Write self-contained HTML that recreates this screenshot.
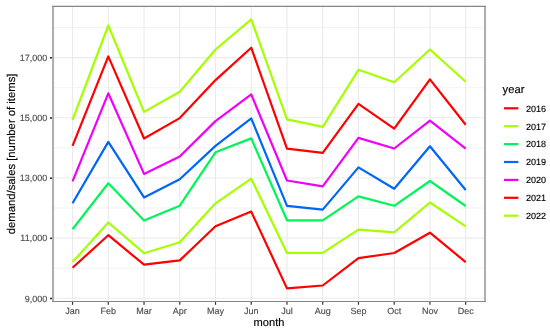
<!DOCTYPE html>
<html><head><meta charset="utf-8"><style>
html,body{margin:0;padding:0;background:#fff;}
body{width:550px;height:331px;overflow:hidden;}
svg{display:block;font-family:"Liberation Sans",Arial,sans-serif;}
text{stroke-width:0.15px;paint-order:stroke;text-rendering:geometricPrecision;}
.k{fill:#000;stroke:#000;}
.g{fill:#4D4D4D;stroke:#4D4D4D;}
</style></head><body>
<svg width="550" height="331" viewBox="0 0 550 331">
<rect x="0" y="0" width="550" height="331" fill="#fff"/>
<line x1="53.0" x2="485.0" y1="268.21" y2="268.21" stroke="#EBEBEB" stroke-width="0.6"/>
<line x1="53.0" x2="485.0" y1="208.04" y2="208.04" stroke="#EBEBEB" stroke-width="0.6"/>
<line x1="53.0" x2="485.0" y1="147.86" y2="147.86" stroke="#EBEBEB" stroke-width="0.6"/>
<line x1="53.0" x2="485.0" y1="87.69" y2="87.69" stroke="#EBEBEB" stroke-width="0.6"/>
<line x1="53.0" x2="485.0" y1="27.51" y2="27.51" stroke="#EBEBEB" stroke-width="0.6"/>
<line x1="53.0" x2="485.0" y1="298.30" y2="298.30" stroke="#EBEBEB" stroke-width="1.1"/>
<line x1="53.0" x2="485.0" y1="238.12" y2="238.12" stroke="#EBEBEB" stroke-width="1.1"/>
<line x1="53.0" x2="485.0" y1="177.95" y2="177.95" stroke="#EBEBEB" stroke-width="1.1"/>
<line x1="53.0" x2="485.0" y1="117.78" y2="117.78" stroke="#EBEBEB" stroke-width="1.1"/>
<line x1="53.0" x2="485.0" y1="57.60" y2="57.60" stroke="#EBEBEB" stroke-width="1.1"/>
<line x1="72.55" x2="72.55" y1="6.3" y2="301.5" stroke="#EBEBEB" stroke-width="1.1"/>
<line x1="108.29" x2="108.29" y1="6.3" y2="301.5" stroke="#EBEBEB" stroke-width="1.1"/>
<line x1="144.03" x2="144.03" y1="6.3" y2="301.5" stroke="#EBEBEB" stroke-width="1.1"/>
<line x1="179.77" x2="179.77" y1="6.3" y2="301.5" stroke="#EBEBEB" stroke-width="1.1"/>
<line x1="215.51" x2="215.51" y1="6.3" y2="301.5" stroke="#EBEBEB" stroke-width="1.1"/>
<line x1="251.25" x2="251.25" y1="6.3" y2="301.5" stroke="#EBEBEB" stroke-width="1.1"/>
<line x1="286.99" x2="286.99" y1="6.3" y2="301.5" stroke="#EBEBEB" stroke-width="1.1"/>
<line x1="322.73" x2="322.73" y1="6.3" y2="301.5" stroke="#EBEBEB" stroke-width="1.1"/>
<line x1="358.47" x2="358.47" y1="6.3" y2="301.5" stroke="#EBEBEB" stroke-width="1.1"/>
<line x1="394.21" x2="394.21" y1="6.3" y2="301.5" stroke="#EBEBEB" stroke-width="1.1"/>
<line x1="429.95" x2="429.95" y1="6.3" y2="301.5" stroke="#EBEBEB" stroke-width="1.1"/>
<line x1="465.69" x2="465.69" y1="6.3" y2="301.5" stroke="#EBEBEB" stroke-width="1.1"/>
<polyline points="72.55,267.80 108.29,235.20 144.03,264.70 179.77,260.40 215.51,226.30 251.25,211.60 286.99,288.40 322.73,285.50 358.47,258.20 394.21,253.00 429.95,232.70 465.69,262.10" fill="none" stroke="#FF0000" stroke-width="2.2" stroke-linejoin="round" stroke-linecap="butt"/>
<polyline points="72.55,262.10 108.29,222.50 144.03,253.20 179.77,242.30 215.51,203.30 251.25,178.70 286.99,252.90 322.73,252.90 358.47,229.70 394.21,232.40 429.95,202.50 465.69,226.40" fill="none" stroke="#A6FF00" stroke-width="2.2" stroke-linejoin="round" stroke-linecap="butt"/>
<polyline points="72.55,229.20 108.29,183.30 144.03,220.60 179.77,205.70 215.51,152.30 251.25,138.40 286.99,220.30 322.73,220.30 358.47,196.40 394.21,205.80 429.95,181.00 465.69,206.00" fill="none" stroke="#00F55A" stroke-width="2.2" stroke-linejoin="round" stroke-linecap="butt"/>
<polyline points="72.55,203.20 108.29,141.90 144.03,197.40 179.77,179.20 215.51,145.90 251.25,118.40 286.99,205.80 322.73,209.60 358.47,167.40 394.21,188.80 429.95,146.30 465.69,190.00" fill="none" stroke="#0066F5" stroke-width="2.2" stroke-linejoin="round" stroke-linecap="butt"/>
<polyline points="72.55,181.40 108.29,93.30 144.03,173.90 179.77,156.50 215.51,121.10 251.25,94.40 286.99,180.50 322.73,186.40 358.47,137.90 394.21,148.50 429.95,120.70 465.69,148.70" fill="none" stroke="#F000FA" stroke-width="2.2" stroke-linejoin="round" stroke-linecap="butt"/>
<polyline points="72.55,145.90 108.29,56.40 144.03,138.50 179.77,118.10 215.51,80.10 251.25,47.70 286.99,148.70 322.73,152.90 358.47,103.90 394.21,128.60 429.95,79.40 465.69,124.80" fill="none" stroke="#FF0000" stroke-width="2.2" stroke-linejoin="round" stroke-linecap="butt"/>
<polyline points="72.55,119.90 108.29,25.50 144.03,111.90 179.77,91.70 215.51,49.50 251.25,19.40 286.99,119.40 322.73,126.90 358.47,69.80 394.21,82.20 429.95,49.50 465.69,81.80" fill="none" stroke="#A6FF00" stroke-width="2.2" stroke-linejoin="round" stroke-linecap="butt"/>
<line x1="53.0" x2="53.0" y1="6.3" y2="301.5" stroke="#B0B0B0" stroke-width="2.1"/>
<line x1="485.0" x2="485.0" y1="6.3" y2="301.5" stroke="#B0B0B0" stroke-width="2.1"/>
<line x1="52.0" x2="486.0" y1="6.3" y2="6.3" stroke="#858585" stroke-width="1.2"/>
<line x1="52.0" x2="486.0" y1="301.5" y2="301.5" stroke="#858585" stroke-width="1.2"/>
<line x1="49.9" x2="52.0" y1="298.50" y2="298.50" stroke="#333" stroke-width="1.6"/>
<text x="47.2" y="301.50" text-anchor="end" font-size="9.0" class="g">9,000</text>
<line x1="49.9" x2="52.0" y1="238.32" y2="238.32" stroke="#333" stroke-width="1.6"/>
<text x="47.2" y="241.32" text-anchor="end" font-size="9.0" class="g">11,000</text>
<line x1="49.9" x2="52.0" y1="178.15" y2="178.15" stroke="#333" stroke-width="1.6"/>
<text x="47.2" y="181.15" text-anchor="end" font-size="9.0" class="g">13,000</text>
<line x1="49.9" x2="52.0" y1="117.98" y2="117.98" stroke="#333" stroke-width="1.6"/>
<text x="47.2" y="120.98" text-anchor="end" font-size="9.0" class="g">15,000</text>
<line x1="49.9" x2="52.0" y1="57.80" y2="57.80" stroke="#333" stroke-width="1.6"/>
<text x="47.2" y="60.80" text-anchor="end" font-size="9.0" class="g">17,000</text>
<line x1="72.55" x2="72.55" y1="302.1" y2="304.8" stroke="#333" stroke-width="1.2"/>
<text x="72.55" y="313.5" text-anchor="middle" font-size="9.0" class="g">Jan</text>
<line x1="108.29" x2="108.29" y1="302.1" y2="304.8" stroke="#333" stroke-width="1.2"/>
<text x="108.29" y="313.5" text-anchor="middle" font-size="9.0" class="g">Feb</text>
<line x1="144.03" x2="144.03" y1="302.1" y2="304.8" stroke="#333" stroke-width="1.2"/>
<text x="144.03" y="313.5" text-anchor="middle" font-size="9.0" class="g">Mar</text>
<line x1="179.77" x2="179.77" y1="302.1" y2="304.8" stroke="#333" stroke-width="1.2"/>
<text x="179.77" y="313.5" text-anchor="middle" font-size="9.0" class="g">Apr</text>
<line x1="215.51" x2="215.51" y1="302.1" y2="304.8" stroke="#333" stroke-width="1.2"/>
<text x="215.51" y="313.5" text-anchor="middle" font-size="9.0" class="g">May</text>
<line x1="251.25" x2="251.25" y1="302.1" y2="304.8" stroke="#333" stroke-width="1.2"/>
<text x="251.25" y="313.5" text-anchor="middle" font-size="9.0" class="g">Jun</text>
<line x1="286.99" x2="286.99" y1="302.1" y2="304.8" stroke="#333" stroke-width="1.2"/>
<text x="286.99" y="313.5" text-anchor="middle" font-size="9.0" class="g">Jul</text>
<line x1="322.73" x2="322.73" y1="302.1" y2="304.8" stroke="#333" stroke-width="1.2"/>
<text x="322.73" y="313.5" text-anchor="middle" font-size="9.0" class="g">Aug</text>
<line x1="358.47" x2="358.47" y1="302.1" y2="304.8" stroke="#333" stroke-width="1.2"/>
<text x="358.47" y="313.5" text-anchor="middle" font-size="9.0" class="g">Sep</text>
<line x1="394.21" x2="394.21" y1="302.1" y2="304.8" stroke="#333" stroke-width="1.2"/>
<text x="394.21" y="313.5" text-anchor="middle" font-size="9.0" class="g">Oct</text>
<line x1="429.95" x2="429.95" y1="302.1" y2="304.8" stroke="#333" stroke-width="1.2"/>
<text x="429.95" y="313.5" text-anchor="middle" font-size="9.0" class="g">Nov</text>
<line x1="465.69" x2="465.69" y1="302.1" y2="304.8" stroke="#333" stroke-width="1.2"/>
<text x="465.69" y="313.5" text-anchor="middle" font-size="9.0" class="g">Dec</text>
<text x="269.00" y="325.8" text-anchor="middle" font-size="11.1" class="k">month</text>
<text transform="translate(14.9,153.9) rotate(-90)" x="0" y="0" text-anchor="middle" font-size="11.3" class="k">demand/sales [number of items]</text>
<text x="502.6" y="93" font-size="11.2" class="k">year</text>
<line x1="504" x2="518.4" y1="108.30" y2="108.30" stroke="#FF0000" stroke-width="2.2"/>
<text x="526" y="111.60" font-size="9.0" class="k">2016</text>
<line x1="504" x2="518.4" y1="126.20" y2="126.20" stroke="#A6FF00" stroke-width="2.2"/>
<text x="526" y="129.50" font-size="9.0" class="k">2017</text>
<line x1="504" x2="518.4" y1="144.10" y2="144.10" stroke="#00F55A" stroke-width="2.2"/>
<text x="526" y="147.40" font-size="9.0" class="k">2018</text>
<line x1="504" x2="518.4" y1="162.00" y2="162.00" stroke="#0066F5" stroke-width="2.2"/>
<text x="526" y="165.30" font-size="9.0" class="k">2019</text>
<line x1="504" x2="518.4" y1="179.90" y2="179.90" stroke="#F000FA" stroke-width="2.2"/>
<text x="526" y="183.20" font-size="9.0" class="k">2020</text>
<line x1="504" x2="518.4" y1="197.80" y2="197.80" stroke="#FF0000" stroke-width="2.2"/>
<text x="526" y="201.10" font-size="9.0" class="k">2021</text>
<line x1="504" x2="518.4" y1="215.70" y2="215.70" stroke="#A6FF00" stroke-width="2.2"/>
<text x="526" y="219.00" font-size="9.0" class="k">2022</text>
</svg>
</body></html>
